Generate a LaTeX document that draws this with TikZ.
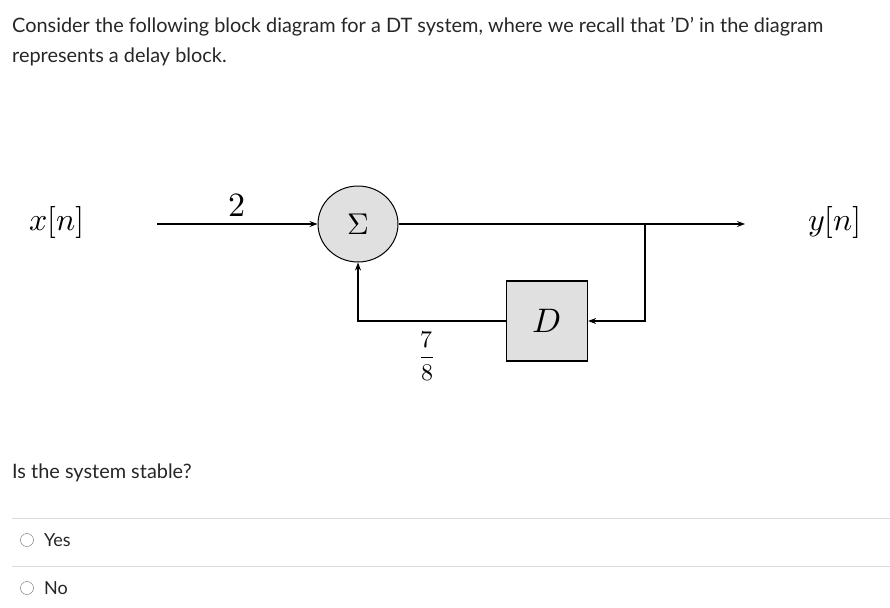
\documentclass[tikz,border=0pt]{standalone}
\usepackage{fontspec}
\setmainfont{Lato}
\usepackage{unicode-math}
\setmathfont{Latin Modern Math}
\usetikzlibrary{shapes.geometric,arrows.meta}
\begin{document}
\begin{tikzpicture}[x=1pt,y=-1pt,
  txt/.style={anchor=base west,inner sep=0pt,font=\fontsize{19.9}{23}\selectfont,text=black!85},
  lbl/.style={inner sep=0pt,font=\fontsize{32}{36}\selectfont},
  sig/.style={-{Stealth[length=8pt,width=6pt]},line width=1.2pt}]
\useasboundingbox (0,0) rectangle (890,607);
\node[txt] (t1) at (12,33) {Consider the following block diagram for a DT system, where we recall that 'D' in the diagram};
\node[txt] (t2) at (12,63) {represents a delay block.};
\node[lbl] (x) at (57,222) {$x[n]$};
\node[lbl] (y) at (835,222) {$y[n]$};
\node[draw,ellipse,fill=black!12,line width=1pt,minimum width=80pt,minimum height=76pt,inner sep=0pt] (s) at (358,224) {\fontsize{30}{32}\selectfont$\Sigma$};
\node[draw,fill=black!12,line width=1.2pt,minimum width=81pt,minimum height=80pt] (d) at (547,321) {\fontsize{34}{36}\selectfont$D$};
\coordinate (in) at (157,224);
\coordinate (out) at (745,224);
\coordinate (br) at (645,224);
\coordinate (fb) at (358,321);
\draw[sig] (in) -- (s.west) node[pos=0.5,above=4pt,font=\fontsize{34}{36}\selectfont] (g) {$2$};
\draw[sig] (s.east) -- (out);
\draw[sig] (br) |- (d.east);
\draw[sig] (d.west) -- (fb) -- (s.south);
\node[font=\fontsize{24}{26}\selectfont] (f) at (427,356) {$\dfrac{7}{8}$};
\node[txt] (q) at (12,478) {Is the system stable?};
\draw[black!15] (12,518) coordinate (l1) -- (890,518);
\draw[black!15] (12,566) coordinate (l2) -- (890,566);
\node[draw=black!60,circle,minimum size=13pt,inner sep=0pt] (r1) at (27,540) {};
\node[txt,anchor=west,font=\fontsize{18}{20}\selectfont] (yes) at (44,540) {Yes};
\node[draw=black!60,circle,minimum size=13pt,inner sep=0pt] (r2) at (27,588) {};
\node[txt,anchor=west,font=\fontsize{18}{20}\selectfont] (no) at (44,588) {No};
\end{tikzpicture}
\end{document}
